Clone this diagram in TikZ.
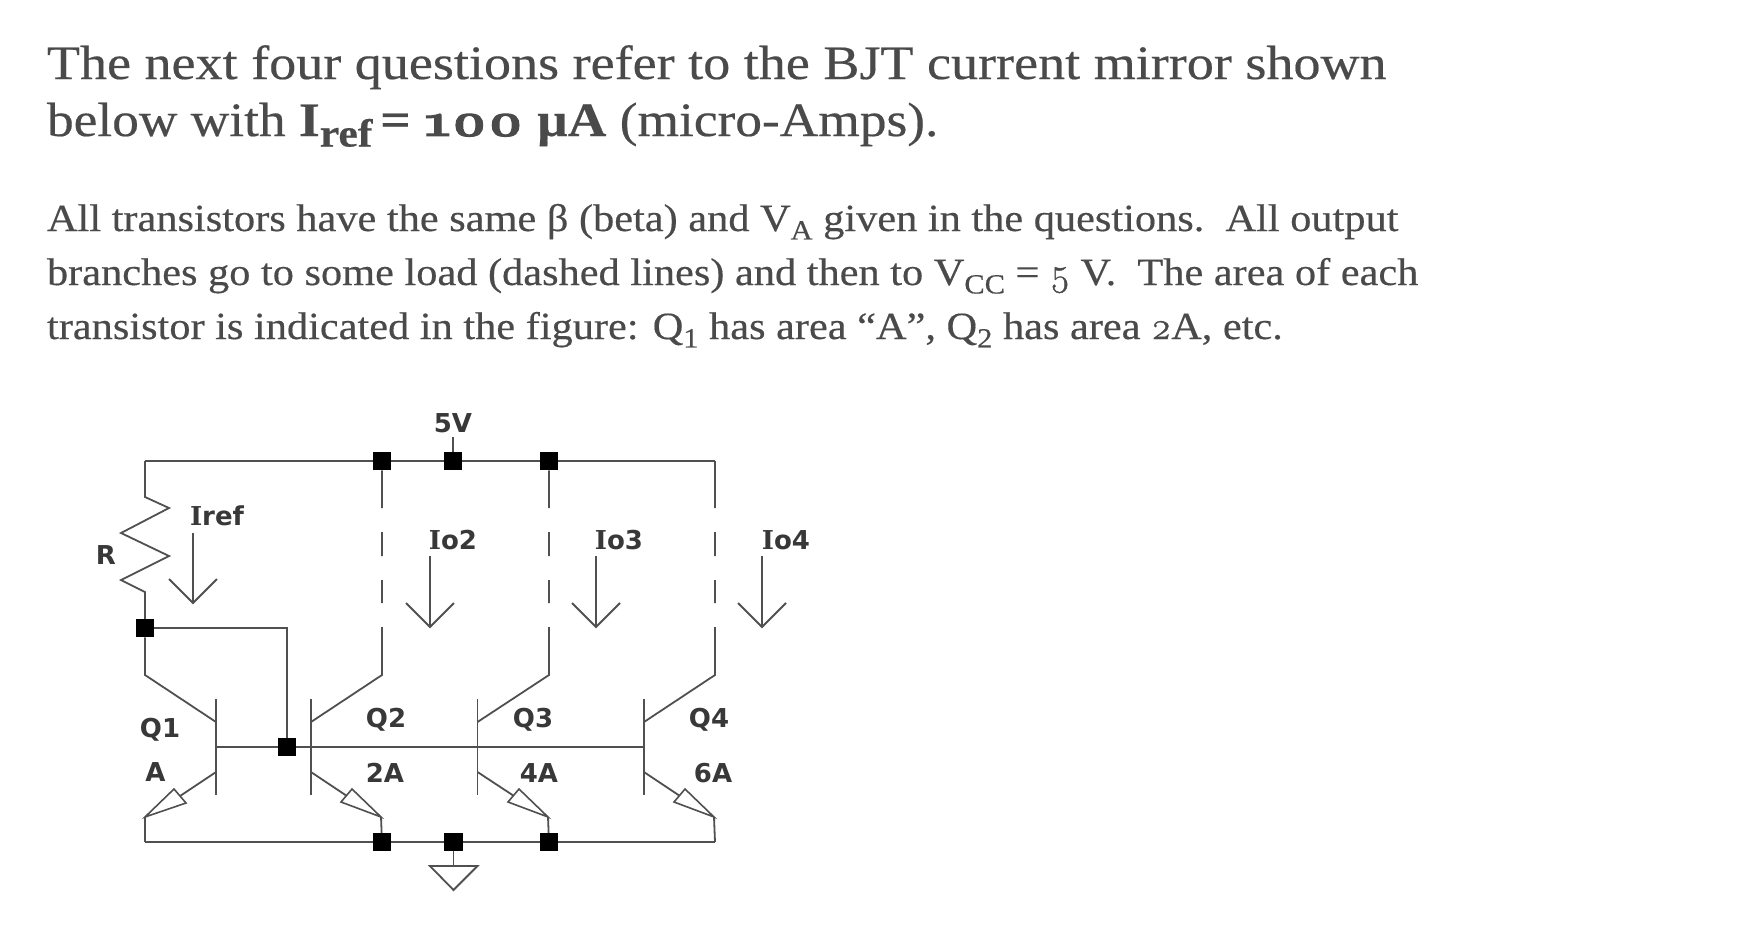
\documentclass[tikz,border=0pt]{standalone}
\usepackage{fontspec}
\usetikzlibrary{calc}
\setmainfont[FakeStretch=1.10,FakeBold=0.4,BoldFont={Liberation Serif Bold}]{Liberation Serif}
\newfontfamily\titlefont[FakeStretch=1.13,FakeBold=0.4,BoldFont={Liberation Serif Bold}]{Liberation Serif}
\newfontfamily\osnum[Numbers=OldStyle,FakeBold=1]{Latin Modern Roman}
\newfontfamily\osbold[Numbers=OldStyle,FakeBold=2,FakeStretch=1.2]{Latin Modern Roman}
\newfontfamily\labfont{DejaVu Sans}
\newfontfamily\labser{DejaVu Serif}
\definecolor{txt}{HTML}{4A4A4A}
\definecolor{wire}{HTML}{505050}
\newcommand{\subs}[1]{\raisebox{-0.22em}{\fontsize{0.72em}{1em}\selectfont #1}}
\newcommand{\subb}[1]{\raisebox{-0.22em}{\fontsize{0.82em}{1em}\selectfont #1}}
\tikzset{
  line/.style={txt,anchor=base west,inner sep=0pt,outer sep=0pt},
  titleline/.style={line,font=\titlefont\fontsize{48}{50}\selectfont},
  bodyline/.style={line,font=\fontsize{38.5}{40}\selectfont},
  wireline/.style={draw=wire,line width=2.2pt},
  thinwire/.style={draw=wire,line width=1.8pt},
  junction/.style={rectangle,fill=black,minimum size=18.5pt,inner sep=0pt,outer sep=0pt},
  lab/.style={text=black!78,font=\labfont\bfseries\fontsize{26}{28}\selectfont,inner sep=0pt},
  emit/.style={draw=wire,line width=1.6pt,fill=white,line join=miter}
}
\begin{document}
\begin{tikzpicture}[x=1pt,y=-1pt]
\useasboundingbox (0,0) rectangle (1760,934);
\fill[white] (0,0) rectangle (1760,934);
% text
\node[titleline,xscale=0.997,transform shape] (t1) at (47,79) {The next four questions refer to the BJT current mirror shown};
\node[titleline,xscale=0.984,transform shape] (t2) at (47,136) {below with \textbf{I\subb{ref}\,= {\osbold 100} µA} (micro-Amps).};
\node[bodyline] (b1) at (47,231) {All transistors have the same β (beta) and V\subs{A} given in the questions.\ \ All output};
\node[bodyline] (b2) at (47,285) {branches go to some load (dashed lines) and then to V\subs{CC} = {\osnum 5} V.\ \ The area of each};
\node[bodyline] (b3) at (47,339) {transistor is indicated in the figure: Q\subs{1} has area “A”, Q\subs{2} has area {\osnum 2}A, etc.};
% coordinates
\coordinate (tl) at (145,461);
\coordinate (tr) at (715,461);
\coordinate (bl) at (145,842);
\coordinate (br) at (715,842);
\node[junction] (j5a) at (382,461) {};
\node[junction] (j5v) at (453,461) {};
\node[junction] (j5b) at (549,461) {};
\node[junction] (jr) at (145,628) {};
\node[junction] (jb) at (287,747) {};
\node[junction] (j0a) at (382,842) {};
\node[junction] (j0g) at (453.5,842) {};
\node[junction] (j0b) at (549,842) {};
\coordinate (v5) at (453,437);
\coordinate (gt) at (453.5,866);
\coordinate (c1) at (145,675);
\coordinate (c2) at (382,675);
\coordinate (c3) at (549,675);
\coordinate (c4) at (715,675);
\coordinate (q1c) at (216,722);
\coordinate (q2c) at (311,722);
\coordinate (q3c) at (477.5,722);
\coordinate (q4c) at (644,722);
\coordinate (q1b) at (216,747);
\coordinate (q4b) at (644,747);
\coordinate (q1e) at (216,772);
\coordinate (q2e) at (311,772);
\coordinate (q3e) at (477.5,772);
\coordinate (q4e) at (644,772);
\coordinate (e1) at (145,817);
\coordinate (e2) at (381,817);
\coordinate (e3) at (548,817);
\coordinate (e4) at (714,817);
\coordinate (jbc) at (287,628);
% rails
\draw[wireline,line join=miter] (tl) -- (j5a) -- (j5v) -- (j5b) -- (tr);
\draw[wireline] (bl) -- (j0a) -- (j0g) -- (j0b) -- (br);
\draw[thinwire] (v5) -- (j5v);
\draw[thinwire] (j0g) -- (gt);
% resistor
\draw[thinwire,line join=miter] (tl) -- (145,497) -- (169,508) -- (121,533) -- (169,556) -- (121,580) -- (145,592) -- (jr);
\draw[thinwire] (jr) -- (c1) -- (q1c);
\draw[thinwire] (jr) -- (jbc) -- (jb);
% load columns with dashes
\draw[thinwire] (j5a) -- (382,508) (382,532) -- (382,556) (382,580) -- (382,603) (382,627) -- (c2) -- (q2c);
\draw[thinwire] (j5b) -- (549,508) (549,532) -- (549,556) (549,580) -- (549,603) (549,627) -- (c3) -- (q3c);
\draw[thinwire] (tr) -- (715,508) (715,532) -- (715,556) (715,580) -- (715,603) (715,627) -- (c4) -- (q4c);
% transistor bars and base
\foreach \x in {216,311,477.5,644} \draw[thinwire] (\x,699) -- (\x,795);
\draw[thinwire] (q1b) -- (jb) -- (q4b);
% emitters
\draw[thinwire] (q1e) -- (180,796);
\draw[emit] (e1) -- (174,789) -- (186,803) -- cycle;
\draw[thinwire] (q2e) -- ($(e2)+(-34,-21)$);
\draw[emit] (e2) -- ++(-29,-28) -- ++(-11,13) -- cycle;
\draw[thinwire] (q3e) -- ($(e3)+(-34,-21)$);
\draw[emit] (e3) -- ++(-29,-28) -- ++(-11,13) -- cycle;
\draw[thinwire] (q4e) -- ($(e4)+(-34,-21)$);
\draw[emit] (e4) -- ++(-29,-28) -- ++(-11,13) -- cycle;
\draw[thinwire] (e1) -- (bl);
\draw[thinwire] (e2) -- (j0a);
\draw[thinwire] (e3) -- (j0b);
\draw[thinwire] (e4) -- (br);
% ground
\draw[thinwire,line join=miter] (430,866) -- (477.5,866) -- (453.5,890) -- cycle;
% current arrows
\foreach \x/\t/\b in {193/533/603,430/556/627,596/556/627,762/556/627}{
  \draw[thinwire] (\x,\t) -- (\x,\b);
  \draw[thinwire,line join=miter] ($(\x,\b)+(-24,-24)$) -- (\x,\b) -- ($(\x,\b)+(24,-24)$);
}
% labels
\node[lab] (l5v) at (453,423) {5V};
\node[lab] (lr) at (106,555) {R};
\node[lab] (liref) at (217,516) {{\labser\bfseries I}ref};
\node[lab] (lio2) at (453,540) {{\labser\bfseries I}o2};
\node[lab] (lio3) at (619,540) {{\labser\bfseries I}o3};
\node[lab] (lio4) at (786,540) {{\labser\bfseries I}o4};
\node[lab] (lq1) at (160,730) {Q1};
\node[lab] (la) at (155.5,772) {A};
\node[lab] (lq2) at (386,720) {Q2};
\node[lab] (l2a) at (385,773) {2A};
\node[lab] (lq3) at (533,720) {Q3};
\node[lab] (l4a) at (539,773) {4A};
\node[lab] (lq4) at (709,720) {Q4};
\node[lab] (l6a) at (713,773) {6A};
\end{tikzpicture}
\end{document}
